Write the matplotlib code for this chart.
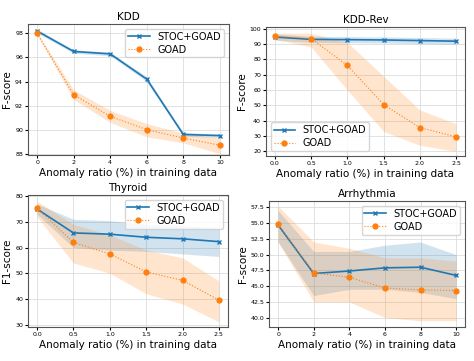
import matplotlib.pyplot as plt

x_kdd = [0, 2, 4, 6, 8, 10]
x_rev = [0.0, 0.5, 1.0, 1.5, 2.0, 2.5]

kdd_stoc = [98.2, 96.5, 96.3, 94.2, 89.6, 89.5]
kdd_stoc_lo = [98.05, 96.35, 96.15, 94.0, 89.45, 89.35]
kdd_stoc_hi = [98.35, 96.65, 96.45, 94.4, 89.75, 89.65]
kdd_goad = [98.0, 92.9, 91.1, 90.0, 89.3, 88.7]
kdd_goad_lo = [97.9, 92.5, 90.6, 89.4, 88.9, 88.0]
kdd_goad_hi = [98.1, 93.3, 91.6, 90.5, 89.7, 89.3]

rev_stoc = [94.5, 93.0, 92.8, 92.6, 92.2, 91.8]
rev_stoc_lo = [92.5, 91.0, 90.8, 90.6, 90.2, 89.8]
rev_stoc_hi = [96.5, 95.0, 94.8, 94.6, 94.2, 93.8]
rev_goad = [95.0, 93.5, 76.0, 50.5, 35.5, 29.5]
rev_goad_lo = [93.0, 88.0, 60.0, 33.0, 24.0, 20.0]
rev_goad_hi = [97.0, 97.0, 91.0, 69.0, 47.0, 38.0]

thy_stoc = [75.0, 65.7, 65.2, 64.0, 63.4, 62.3]
thy_stoc_lo = [73.0, 60.0, 59.0, 58.5, 57.5, 56.5]
thy_stoc_hi = [77.0, 71.0, 70.5, 69.0, 68.5, 67.5]
thy_goad = [75.3, 62.0, 57.5, 50.5, 47.2, 39.5]
thy_goad_lo = [72.0, 54.0, 50.0, 42.0, 38.0, 31.0]
thy_goad_hi = [78.0, 69.0, 65.0, 59.0, 56.0, 47.0]

arr_stoc = [54.7, 47.0, 47.4, 47.9, 48.0, 46.7]
arr_stoc_lo = [52.0, 43.5, 44.5, 44.5, 44.0, 43.0]
arr_stoc_hi = [57.0, 50.5, 50.5, 51.5, 52.0, 50.0]
arr_goad = [54.8, 47.1, 46.4, 44.7, 44.4, 44.3]
arr_goad_lo = [52.0, 42.5, 42.5, 40.0, 39.5, 39.5]
arr_goad_hi = [57.7, 52.0, 51.0, 49.5, 49.5, 49.0]

BLUE = "#1f77b4"
ORANGE = "#ff7f0e"

fig = plt.figure(figsize=(4.74, 3.61), dpi=100)


def panel(rect, x, stoc, slo, shi, goad, glo, ghi, title, ylabel, ylim, yticks,
          xfmt, yfmt, legend_loc):
    ax = fig.add_axes(rect)
    ax.fill_between(x, slo, shi, color=BLUE, alpha=0.2, lw=0)
    ax.fill_between(x, glo, ghi, color=ORANGE, alpha=0.2, lw=0)
    ax.plot(x, stoc, color=BLUE, marker="x", ms=3, lw=1.2, label="STOC+GOAD")
    ax.plot(x, goad, color=ORANGE, marker="o", ms=3.5, lw=0.8, ls=":",
            label="GOAD")
    ax.set_title(title, fontsize=7.5, pad=3)
    ax.set_ylabel(ylabel, fontsize=7.5, labelpad=2)
    ax.set_xlabel("Anomaly ratio (%) in training data", fontsize=7.5, labelpad=2)
    ax.set_xticks(x)
    ax.set_xticklabels([xfmt.format(v) for v in x])
    ax.set_ylim(*ylim)
    ax.set_yticks(yticks)
    ax.set_yticklabels([yfmt.format(v) for v in yticks])
    ax.tick_params(labelsize=4.5, length=2, pad=1.5)
    ax.grid(True, color="#dddddd", lw=0.6)
    ax.set_axisbelow(True)
    for s in ax.spines.values():
        s.set_color("#555555")
        s.set_linewidth(0.8)
    ax.legend(loc=legend_loc, fontsize=7, framealpha=0.8, borderpad=0.3,
              handlelength=2.2, labelspacing=0.3)
    return ax


panel([0.059, 0.571, 0.424, 0.363], x_kdd, kdd_stoc, kdd_stoc_lo, kdd_stoc_hi,
      kdd_goad, kdd_goad_lo, kdd_goad_hi, "KDD", "F-score", (87.9, 98.8),
      [88, 90, 92, 94, 96, 98], "{:d}", "{:d}", "upper right")
panel([0.561, 0.568, 0.42, 0.357], x_rev, rev_stoc, rev_stoc_lo, rev_stoc_hi,
      rev_goad, rev_goad_lo, rev_goad_hi, "KDD-Rev", "F-score", (17, 101),
      [20, 30, 40, 50, 60, 70, 80, 90, 100], "{:.1f}", "{:d}", "lower left")
panel([0.059, 0.094, 0.422, 0.366], x_rev, thy_stoc, thy_stoc_lo, thy_stoc_hi,
      thy_goad, thy_goad_lo, thy_goad_hi, "Thyroid", "F1-score", (29, 80.5),
      [30, 40, 50, 60, 70, 80], "{:.1f}", "{:d}", "upper right")
panel([0.568, 0.094, 0.413, 0.349], x_kdd, arr_stoc, arr_stoc_lo, arr_stoc_hi,
      arr_goad, arr_goad_lo, arr_goad_hi, "Arrhythmia", "F-score", (38.5, 58.5),
      [40.0, 42.5, 45.0, 47.5, 50.0, 52.5, 55.0, 57.5], "{:d}", "{:.1f}",
      "upper right")

fig.savefig("out.png", dpi=100)
